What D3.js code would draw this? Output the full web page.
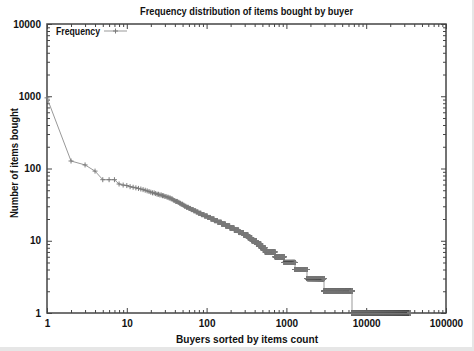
<!DOCTYPE html>
<html>
<head>
<meta charset="utf-8">
<script src="https://cdn.jsdelivr.net/npm/d3@7"></script>
<style>
  body { margin: 0; background: #fff; }
  text { font-family: "Liberation Sans", Arial, sans-serif; font-weight: bold; fill: #111; }
</style>
</head>
<body>
<div id="chart"></div>
<script>
// frequency distribution: buyers sorted by items count (log-log)

// number of items per buyer, and how many buyers share that count (sorted desc)
var itemCounts = [950,127,112,92,70,61,59,58,
  56,55,54,53,52,51,50,49,48,47,
  46,45,44,43,42,41,40,39,38,37,36,
  35,34,33,32,31,30,29,28,27,26,25,
  24,23,22,21,20,19,18,17,16,15,14,13,12,11,10,
  9,8,7,6,5,4,3,2,1];
var buyersWithCount = [1,1,1,1,3,1,1,1,
  1,1,1,1,1,1,1,1,1,1,
  2,1,2,2,2,2,2,2,2,1,2,
  3,2,2,3,2,3,4,4,5,5,5,
  7,8,9,10,12,13,16,19,23,26,31,38,40,38,52,
  58,62,179,215,348,529,1149,3680,28760];

var xTicks = [1,10,100,1000,10000,100000];
var yTicks = [1,10,100,1000,10000];

var width = 474,
    height = 351;

var svg = d3.select("#chart").append("svg")
    .attr("width", width)
    .attr("height", height);

// faint scan edge at right / bottom
svg.append("rect").attr("x", 472).attr("y", 0).attr("width", 2).attr("height", height).attr("fill", "#e6e6e6");
svg.append("rect").attr("x", 0).attr("y", 347).attr("width", width).attr("height", 4).attr("fill", "#e6e6e6");

var x = d3.scaleLog().domain([1, 100000]).range([47, 446]);
var y = d3.scaleLog().domain([1, 10000]).range([313, 24]);

// expand runs into one point per buyer rank
var points = [];
var rank = 0;
itemCounts.forEach(function(c, i) {
    for (var k = 0; k < buyersWithCount[i]; k++) {
        rank++;
        points.push([rank, c]);
    }
});

// minor ticks 2..9 in each decade
function minors(lo, hi) {
    var out = [];
    for (var d = lo; d < hi; d *= 10)
        for (var m = 2; m <= 9; m++) out.push(d * m);
    return out;
}

var fmt = d3.format("d");
var axisColor = "#444";

function drawAxis(gen, tx, ty) {
    var g = svg.append("g").attr("transform", "translate(" + tx + "," + ty + ")").call(gen);
    g.select(".domain").remove();
    g.selectAll(".tick line").attr("stroke", axisColor);
    g.selectAll("text").style("font-size", "10px").style("font-family", null);
    return g;
}

// bottom / top
drawAxis(d3.axisBottom(x).tickValues(xTicks).tickFormat(fmt).tickSize(-5).tickPadding(7), 0, 313);
drawAxis(d3.axisBottom(x).tickValues(minors(1, 100000)).tickFormat("").tickSize(-3), 0, 313);
drawAxis(d3.axisTop(x).tickValues(xTicks).tickFormat("").tickSize(-5), 0, 24);
drawAxis(d3.axisTop(x).tickValues(minors(1, 100000)).tickFormat("").tickSize(-3), 0, 24);

// left / right
drawAxis(d3.axisLeft(y).tickValues(yTicks).tickFormat(fmt).tickSize(-5).tickPadding(6), 47, 0);
drawAxis(d3.axisLeft(y).tickValues(minors(1, 10000)).tickFormat("").tickSize(-3), 47, 0);
drawAxis(d3.axisRight(y).tickValues(yTicks).tickFormat("").tickSize(-5), 446, 0);
drawAxis(d3.axisRight(y).tickValues(minors(1, 10000)).tickFormat("").tickSize(-3), 446, 0);

// frame
svg.append("rect")
    .attr("x", 47).attr("y", 24)
    .attr("width", 446 - 47).attr("height", 313 - 24)
    .attr("fill", "none")
    .attr("stroke", axisColor)
    .attr("stroke-width", 1.5);

// data line
var line = d3.line()
    .x(function(d) { return x(d[0]); })
    .y(function(d) { return y(d[1]); });

svg.append("path")
    .datum(points)
    .attr("d", line)
    .attr("fill", "none")
    .attr("stroke", "#999")
    .attr("stroke-width", 1);

// "+" markers, one per buyer
var ms = 2.5;
var markerPath = points.map(function(d) {
    var px = x(d[0]), py = y(d[1]);
    return "M" + (px - ms) + "," + py + "h" + (2 * ms) + "M" + px + "," + (py - ms) + "v" + (2 * ms);
}).join("");
svg.append("path")
    .attr("d", markerPath)
    .attr("fill", "none")
    .attr("stroke", "#7a7a7a")
    .attr("stroke-width", 1);

// legend
svg.append("text")
    .attr("x", 56).attr("y", 34.5)
    .attr("textLength", 44).attr("lengthAdjust", "spacingAndGlyphs")
    .style("font-size", "10px")
    .text("Frequency");
svg.append("line")
    .attr("x1", 104).attr("x2", 127).attr("y1", 31).attr("y2", 31)
    .attr("stroke", "#999");
svg.append("path")
    .attr("d", "M" + (115.5 - ms) + ",31h" + (2 * ms) + "M115.5," + (31 - ms) + "v" + (2 * ms))
    .attr("stroke", "#7a7a7a");

// titles
svg.append("text")
    .attr("x", 140).attr("y", 15)
    .attr("textLength", 213).attr("lengthAdjust", "spacingAndGlyphs")
    .style("font-size", "10px")
    .text("Frequency distribution of items bought by buyer");

svg.append("text")
    .attr("x", 176).attr("y", 343)
    .attr("textLength", 142).attr("lengthAdjust", "spacingAndGlyphs")
    .style("font-size", "10px")
    .text("Buyers sorted by items count");

svg.append("text")
    .attr("transform", "translate(17.5,218) rotate(-90)")
    .attr("textLength", 110).attr("lengthAdjust", "spacingAndGlyphs")
    .style("font-size", "10px")
    .text("Number of items bought");
</script>
</body>
</html>
